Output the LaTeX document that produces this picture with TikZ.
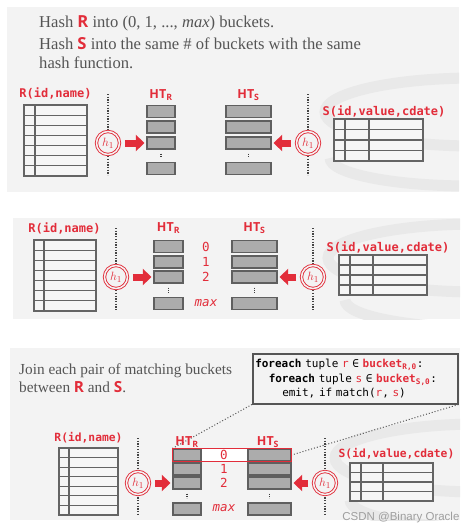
\documentclass[tikz,border=0pt]{standalone}
\usepackage{fontspec}
\setmainfont{Liberation Serif}
\setsansfont{Open Sans}
\setmonofont{DejaVu Sans Mono}
\newfontfamily\markfont{Liberation Sans}
\usetikzlibrary{arrows.meta}

\definecolor{hred}{RGB}{226,45,58}
\definecolor{panelbg}{RGB}{243,243,243}
\definecolor{decogray}{RGB}{233,233,233}
\definecolor{txtgray}{RGB}{85,85,85}
\definecolor{bktfill}{RGB}{172,172,172}
\definecolor{bktline}{RGB}{95,95,95}
\definecolor{tblline}{RGB}{100,100,100}
\definecolor{tblfill}{RGB}{246,246,246}

\newcommand{\redsf}[1]{{\sffamily\bfseries\color{hred}#1}}

\begin{document}
\begin{tikzpicture}[x=1pt, y=-1pt,
    panel/.style={fill=panelbg},
    deco/.style={draw=decogray, line width=11pt},
    tbl/.style={draw=tblline, line width=1.2pt},
    bucket/.style={draw=bktline, fill=bktfill, line width=1.2pt, minimum height=12pt, inner sep=0pt},
    hashfn/.style={circle, draw=hred, double=panelbg, double distance=1.5pt, line width=0.9pt,
        fill=panelbg, minimum size=23pt, inner sep=0pt, text=hred, font=\fontsize{13}{13}\selectfont},
    sepline/.style={draw=txtgray!80!black, line width=1.4pt, dash pattern=on 1.3pt off 1.4pt},
    fatarrow/.style={draw=hred, line width=7pt, -{Triangle[length=8.5pt,width=16pt]},
        shorten <=5pt, shorten >=2pt},
    schema/.style={text=hred, font=\ttfamily\bfseries\fontsize{12}{14}\selectfont},
    htlabel/.style={text=hred, font=\sffamily\bfseries\fontsize{12.5}{14}\selectfont},
    bnum/.style={text=hred, font=\ttfamily\fontsize{12.5}{14}\selectfont},
    vdots/.style={draw=txtgray!70!black, line width=1.1pt, dash pattern=on 1pt off 1.4pt,
        shorten <=4pt, shorten >=4pt},
    body/.style={text=txtgray, font=\fontsize{16.6}{19}\selectfont, anchor=base west, inner sep=0pt},
    callout/.style={draw=txtgray, line width=1pt, dotted}]

\useasboundingbox (0,0) rectangle (474,531);
\fill[white] (0,0) rectangle (474,531);

% ---------- panel 1 ----------
\fill[panel] (7,7) rectangle (459,192);
\begin{scope}
    \clip (7,7) rectangle (459,192);
    \draw[deco] (475,112) ellipse (150pt and 34pt);
    \draw[deco] (330,158) arc (180:360:140pt and 28pt);
\end{scope}

\node[body] (p1t1) at (39,27) {Hash \redsf{R} into (0, 1, ..., \textit{max}) buckets.};
\node[body] (p1t2) at (39,49) {Hash \redsf{S} into the same \# of buckets with the same};
\node[body] (p1t3) at (39,68) {hash function.};

\node[schema] (p1rlab) at (55.5,93) {R(id,name)};
\draw[tbl, fill=tblfill] (24,105) rectangle (87,176);
\foreach \i in {1,...,6}
    \draw[tbl] (24,{105+\i*71/7}) -- (87,{105+\i*71/7});
\draw[tbl] (35,105) -- (35,176);

\coordinate (p1ltop) at (108,94);
\coordinate (p1lbot) at (108,175);
\draw[sepline] (p1ltop) -- (p1lbot);
\node[hashfn] (p1hr) at (108,143) {$h_{1}$};

\node[htlabel] (p1htr) at (161,95) {HT\textsubscript{R}};
\node[bucket, minimum width=28pt] (p1r0) at (161,111.5) {};
\node[bucket, minimum width=28pt] (p1r1) at (161,127) {};
\node[bucket, minimum width=28pt] (p1r2) at (161,143) {};
\node[bucket, minimum width=28pt] (p1rm) at (161,168.5) {};
\draw[vdots] (p1r2) -- (p1rm);

\node[htlabel] (p1hts) at (248.5,95) {HT\textsubscript{S}};
\node[bucket, minimum width=45pt] (p1s0) at (248.5,111.5) {};
\node[bucket, minimum width=45pt] (p1s1) at (248.5,127) {};
\node[bucket, minimum width=45pt] (p1s2) at (248.5,143) {};
\node[bucket, minimum width=45pt] (p1sm) at (248.5,168.5) {};
\draw[vdots] (p1s2) -- (p1sm);

\coordinate (p1rtop) at (308,94);
\coordinate (p1rbot) at (308,175);
\draw[sepline] (p1rtop) -- (p1rbot);
\node[hashfn] (p1hs) at (308,143) {$h_{1}$};

\node[schema] (p1slab) at (384,111) {S(id,value,cdate)};
\draw[tbl, fill=tblfill] (334,119) rectangle (423,161);
\foreach \i in {1,2,3}
    \draw[tbl] (334,{119+\i*10.5}) -- (423,{119+\i*10.5});
\foreach \x in {345,369}
    \draw[tbl] (\x,119) -- (\x,161);

\draw[fatarrow] (p1hr) -- (p1r2.west);
\draw[fatarrow] (p1hs) -- (p1s2.east);

% ---------- panel 2 ----------
\fill[panel] (13,218) rectangle (460,319);
\begin{scope}
    \clip (13,218) rectangle (460,319);
    \draw[deco] (478,258) ellipse (150pt and 34pt);
    \draw[deco] (345,300) arc (180:360:140pt and 28pt);
\end{scope}

\node[schema] (p2rlab) at (64.5,228) {R(id,name)};
\draw[tbl, fill=tblfill] (34,240) rectangle (96,311);
\foreach \i in {1,...,6}
    \draw[tbl] (34,{240+\i*71/7}) -- (96,{240+\i*71/7});
\draw[tbl] (44,240) -- (44,311);

\coordinate (p2ltop) at (116,228);
\coordinate (p2lbot) at (116,311);
\draw[sepline] (p2ltop) -- (p2lbot);
\node[hashfn] (p2hr) at (116,277) {$h_{1}$};

\node[htlabel] (p2htr) at (168.5,228) {HT\textsubscript{R}};
\node[bucket, minimum width=29pt] (p2r0) at (168.5,246.5) {};
\node[bucket, minimum width=29pt] (p2r1) at (168.5,262) {};
\node[bucket, minimum width=29pt] (p2r2) at (168.5,277) {};
\node[bucket, minimum width=29pt] (p2rm) at (168.5,303.5) {};
\draw[vdots] (p2r2) -- (p2rm);

\node[bnum] (p2n0) at (206,247) {0};
\node[bnum] (p2n1) at (206,262) {1};
\node[bnum] (p2n2) at (206,277) {2};
\node[bnum] (p2nm) at (206,303) {\textit{max}};

\node[htlabel] (p2hts) at (254.5,228) {HT\textsubscript{S}};
\node[bucket, minimum width=45pt] (p2s0) at (254.5,246.5) {};
\node[bucket, minimum width=45pt] (p2s1) at (254.5,262) {};
\node[bucket, minimum width=45pt] (p2s2) at (254.5,277) {};
\node[bucket, minimum width=45pt] (p2sm) at (254.5,303.5) {};
\draw[vdots] (p2s2) -- (p2sm);

\coordinate (p2rtop) at (313,228);
\coordinate (p2rbot) at (313,311);
\draw[sepline] (p2rtop) -- (p2rbot);
\node[hashfn] (p2hs) at (313,277) {$h_{1}$};

\node[schema] (p2slab) at (388,247) {S(id,value,cdate)};
\draw[tbl, fill=tblfill] (339,255) rectangle (427,295);
\foreach \i in {1,2,3}
    \draw[tbl] (339,{255+\i*10}) -- (427,{255+\i*10});
\foreach \x in {350,373}
    \draw[tbl] (\x,255) -- (\x,295);

\draw[fatarrow] (p2hr) -- (p2r2.west);
\draw[fatarrow] (p2hs) -- (p2s2.east);

% ---------- panel 3 ----------
\fill[panel] (10,348) rectangle (460,520);
\begin{scope}
    \clip (10,348) rectangle (460,520);
    \draw[deco] (480,458) ellipse (145pt and 34pt);
    \draw[deco] (350,500) arc (180:360:140pt and 28pt);
\end{scope}

\node[body, font=\fontsize{15.3}{18}\selectfont] (p3t1) at (19,374) {Join each pair of matching buckets};
\node[body, font=\fontsize{15.3}{18}\selectfont] (p3t2) at (19,392) {between \redsf{R} and \redsf{S}.};

\node[draw=txtgray, line width=1.5pt, fill=panelbg, anchor=north west,
    minimum width=205pt, minimum height=50pt, text width=200pt, align=left,
    inner xsep=2pt, font=\ttfamily\fontsize{11}{14.5}\selectfont] (code) at (252,353)
    {\textbf{foreach} tuple {\color{hred}r} ∈ {\color{hred}\textbf{bucket}\textsubscript{\textbf{R,0}}}:\\
     \hspace*{13.5pt}\textbf{foreach} tuple {\color{hred}s} ∈ {\color{hred}\textbf{bucket}\textsubscript{\textbf{S,0}}}:\\
     \hspace*{27pt}emit, if match({\color{hred}r}, {\color{hred}s})};

\node[schema, font=\ttfamily\bfseries\fontsize{11.3}{14}\selectfont] (p3rlab) at (88.5,438) {R(id,name)};
\draw[tbl, fill=tblfill] (59,448) rectangle (118,515);
\foreach \i in {1,...,6}
    \draw[tbl] (59,{448+\i*67/7}) -- (118,{448+\i*67/7});
\draw[tbl] (69,448) -- (69,515);

\coordinate (p3ltop) at (138,438);
\coordinate (p3lbot) at (138,515);
\draw[sepline] (p3ltop) -- (p3lbot);
\node[hashfn] (p3hr) at (138,483) {$h_{1}$};

\node[bucket, minimum width=28pt] (p3r0) at (187,455) {};
\node[bucket, minimum width=28pt] (p3r1) at (187,469) {};
\node[bucket, minimum width=28pt] (p3r2) at (187,483) {};
\node[bucket, minimum width=28pt] (p3rm) at (187,509) {};
\draw[vdots] (p3r2) -- (p3rm);

\node[bucket, minimum width=43pt] (p3s0) at (269.5,455) {};
\node[bucket, minimum width=43pt] (p3s1) at (269.5,469) {};
\node[bucket, minimum width=43pt] (p3s2) at (269.5,483) {};
\node[bucket, minimum width=43pt] (p3sm) at (269.5,509) {};
\draw[vdots] (p3s2) -- (p3sm);

\draw[callout] (code.south west) -- (p3r0.north west);
\draw[callout] (code.south east) -- (p3s0.east);

\fill[white] (p3r0.north east) rectangle (p3s0.south west);
\draw[hred, line width=1.2pt] (p3r0.north west) rectangle (p3s0.south east);

\node[htlabel] (p3htr) at (187,442) {HT\textsubscript{R}};
\node[htlabel] (p3hts) at (268,442) {HT\textsubscript{S}};

\node[bnum] (p3n0) at (224,455) {0};
\node[bnum] (p3n1) at (224,469) {1};
\node[bnum] (p3n2) at (224,483) {2};
\node[bnum] (p3nm) at (224,508) {\textit{max}};

\coordinate (p3rtop) at (325,438);
\coordinate (p3rbot) at (325,515);
\draw[sepline] (p3rtop) -- (p3rbot);
\node[hashfn] (p3hs) at (325,483) {$h_{1}$};

\node[schema, font=\ttfamily\bfseries\fontsize{11.3}{14}\selectfont] (p3slab) at (396.5,454) {S(id,value,cdate)};
\draw[tbl, fill=tblfill] (350,463) rectangle (433,501);
\foreach \i in {1,2,3}
    \draw[tbl] (350,{463+\i*9.5}) -- (433,{463+\i*9.5});
\foreach \x in {361,383}
    \draw[tbl] (\x,463) -- (\x,501);

\draw[fatarrow] (p3hr) -- (p3r2.west);
\draw[fatarrow] (p3hs) -- (p3s2.east);

\node[text=gray!75, font=\markfont\fontsize{11.5}{12}\selectfont, anchor=east] (mark) at (463,518) {CSDN @Binary Oracle};
\end{tikzpicture}
\end{document}
